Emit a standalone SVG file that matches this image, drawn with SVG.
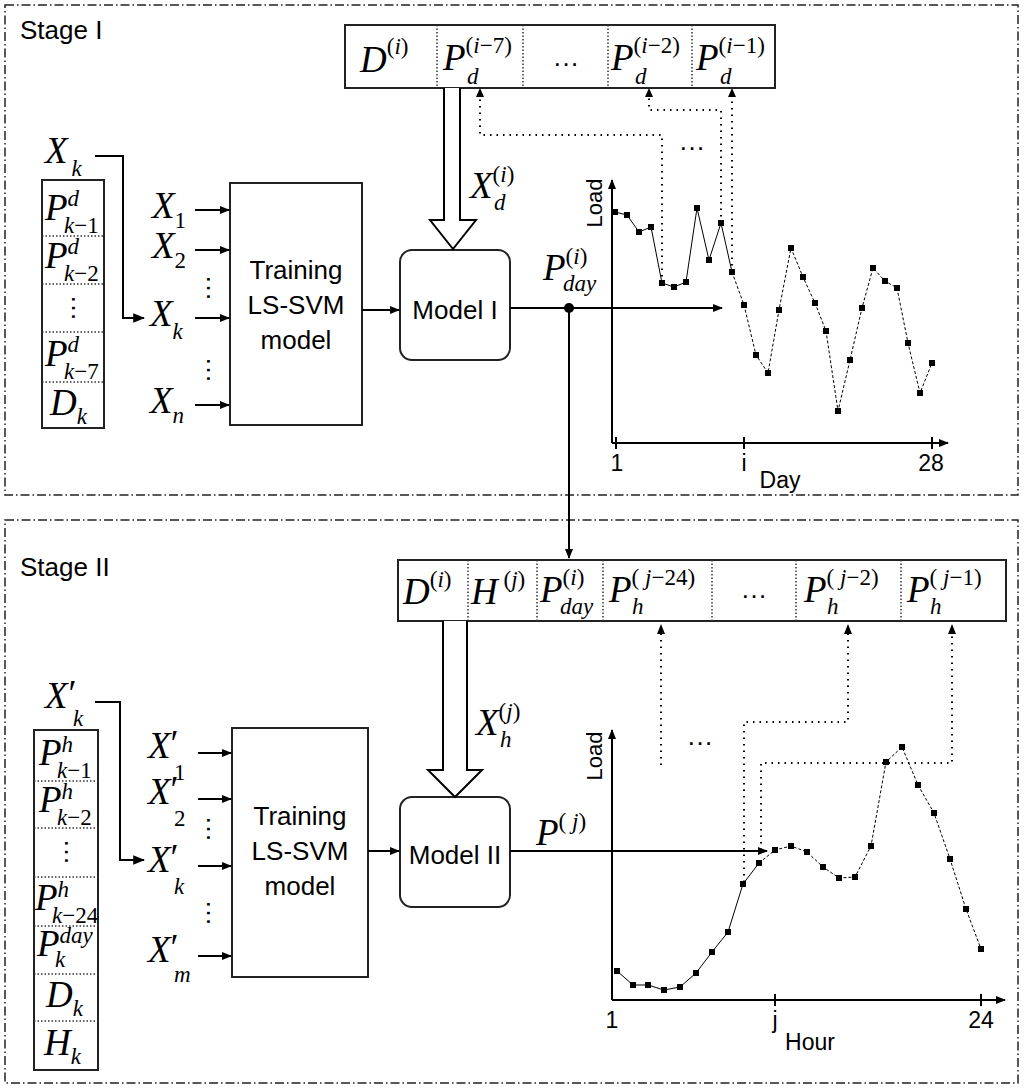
<svg xmlns="http://www.w3.org/2000/svg" width="1024" height="1089" viewBox="0 0 1024 1089">
<style>
.frame{fill:none;stroke:#222;stroke-width:1.5;stroke-dasharray:9 3 1.5 3}
.box{fill:#fff;stroke:#222;stroke-width:2}
.div{stroke:#333;stroke-width:1.5;stroke-dasharray:1.5 2}
.ln{fill:none;stroke:#000;stroke-width:2}
.dot{fill:none;stroke:#000;stroke-width:2;stroke-dasharray:1.5 5}
.solid{fill:none;stroke:#000;stroke-width:1}
.dash{fill:none;stroke:#000;stroke-width:1;stroke-dasharray:3 2}
.m{font-family:"Liberation Serif",serif;font-style:italic;font-size:37px;fill:#000}
.s{font-size:23px}
.r{font-style:normal}
.sans{font-family:"Liberation Sans",Arial,sans-serif;fill:#000}
.pt{fill:#000}
</style>
<defs>
<marker id="ah" viewBox="0 0 10 10" refX="9" refY="5" markerWidth="5" markerHeight="5" orient="auto" markerUnits="strokeWidth"><path d="M0,1 L10,5 L0,9 z" fill="#000"/></marker>
<marker id="sh" viewBox="0 0 10 10" refX="9" refY="5" markerWidth="6" markerHeight="6" orient="auto" markerUnits="strokeWidth"><path d="M0,1 L10,5 L0,9 z" fill="#000"/></marker>
</defs>

<rect class="frame" x="5" y="5" width="1013" height="490"/>
<rect class="frame" x="5" y="520" width="1013" height="563"/>
<text class="sans" x="20" y="39" font-size="26">Stage I</text>
<text class="sans" x="20" y="576" font-size="26">Stage II</text>

<g id="stage1-vector">
<rect class="box" x="345" y="25" width="430" height="63"/>
<line class="div" x1="437" y1="25" x2="437" y2="88"/><line class="div" x1="523" y1="25" x2="523" y2="88"/><line class="div" x1="608" y1="25" x2="608" y2="88"/><line class="div" x1="692" y1="25" x2="692" y2="88"/>
<text class="m" x="360" y="72">D<tspan class="s r" dy="-18">(</tspan><tspan class="s" >i</tspan><tspan class="s r">)</tspan></text>
<text class="m" x="443" y="70">P<tspan class="s r" dy="-17">(</tspan><tspan class="s">i</tspan><tspan class="s r">−7)</tspan><tspan class="s" x="467" dy="31">d</tspan></text>
<text class="sans" x="566" y="72" font-size="26" text-anchor="middle">···</text>
<text class="m" x="611" y="70">P<tspan class="s r" dy="-17">(</tspan><tspan class="s">i</tspan><tspan class="s r">−2)</tspan><tspan class="s" x="635" dy="31">d</tspan></text>
<text class="m" x="696" y="70">P<tspan class="s r" dy="-17">(</tspan><tspan class="s">i</tspan><tspan class="s r">−1)</tspan><tspan class="s" x="720" dy="31">d</tspan></text>
</g>

<g id="stage1-inputs">
<text class="m" x="45" y="163">X<tspan class="s" dx="4" dy="13">k</tspan></text>
<rect class="box" x="42" y="180" width="62" height="248"/>
<line class="div" x1="42" y1="236" x2="104" y2="236"/><line class="div" x1="42" y1="284" x2="104" y2="284"/><line class="div" x1="42" y1="332" x2="104" y2="332"/><line class="div" x1="42" y1="382" x2="104" y2="382"/>
<text class="m" x="45" y="220">P<tspan class="s" dy="-14">d</tspan><tspan class="s" x="64" dy="27">k<tspan class="r">−1</tspan></tspan></text>
<text class="m" x="45" y="268">P<tspan class="s" dy="-14">d</tspan><tspan class="s" x="64" dy="27">k<tspan class="r">−2</tspan></tspan></text>
<text class="sans" x="73" y="315" font-size="26" text-anchor="middle" transform="rotate(90 73 308)">···</text>
<text class="m" x="45" y="366">P<tspan class="s" dy="-14">d</tspan><tspan class="s" x="64" dy="27">k<tspan class="r">−7</tspan></tspan></text>
<text class="m" x="50" y="415">D<tspan class="s" dy="9">k</tspan></text>
<text class="m" x="152" y="218">X<tspan class="s r" dy="10">1</tspan></text>
<text class="m" x="152" y="258">X<tspan class="s r" dy="10">2</tspan></text>
<text class="m" x="150" y="326">X<tspan class="s" dy="13">k</tspan></text>
<text class="m" x="150" y="413">X<tspan class="s" dy="10">n</tspan></text>
<text class="sans" x="208" y="295" font-size="26" text-anchor="middle" transform="rotate(90 208 288)">···</text>
<text class="sans" x="208" y="377" font-size="26" text-anchor="middle" transform="rotate(90 208 370)">···</text>
</g>

<g id="train1">
<rect class="box" x="230" y="183" width="132" height="242"/>
<text class="sans" font-size="26" text-anchor="middle"><tspan x="296" y="279">Training</tspan><tspan x="296" y="314">LS-SVM</tspan><tspan x="296" y="349">model</tspan></text>
</g>
<g id="model1">
<rect class="box" x="400" y="250" width="110" height="110" rx="12"/>
<text class="sans" x="455" y="319" font-size="26" text-anchor="middle">Model I</text>
</g>
<text class="m" x="470" y="198">X<tspan class="s r" dy="-16">(</tspan><tspan class="s">i</tspan><tspan class="s r">)</tspan><tspan class="s" x="494" dy="28">d</tspan></text>
<text class="m" x="543" y="280">P<tspan class="s r" dy="-16">(</tspan><tspan class="s">i</tspan><tspan class="s r">)</tspan><tspan class="s" x="563" dy="27">day</tspan></text>

<g id="stage2-vector">
<rect class="box" x="398" y="560" width="608" height="61"/>
<line class="div" x1="468" y1="560" x2="468" y2="621"/><line class="div" x1="537" y1="560" x2="537" y2="621"/><line class="div" x1="603" y1="560" x2="603" y2="621"/><line class="div" x1="712" y1="560" x2="712" y2="621"/><line class="div" x1="796" y1="560" x2="796" y2="621"/><line class="div" x1="901" y1="560" x2="901" y2="621"/>
<text class="m" x="403" y="604">D<tspan class="s r" dy="-17">(</tspan><tspan class="s">i</tspan><tspan class="s r">)</tspan></text>
<text class="m" x="471" y="604">H<tspan class="s r" dy="-17"> (</tspan><tspan class="s">j</tspan><tspan class="s r">)</tspan></text>
<text class="m" x="540" y="602">P<tspan class="s r" dy="-17">(</tspan><tspan class="s">i</tspan><tspan class="s r">)</tspan><tspan class="s" x="560" dy="29">day</tspan></text>
<text class="m" x="609" y="602">P<tspan class="s r" dy="-17">(</tspan><tspan class="s"> j</tspan><tspan class="s r">−24)</tspan><tspan class="s" x="632" dy="29">h</tspan></text>
<text class="sans" x="754" y="604" font-size="26" text-anchor="middle">···</text>
<text class="m" x="804" y="602">P<tspan class="s r" dy="-17">(</tspan><tspan class="s"> j</tspan><tspan class="s r">−2)</tspan><tspan class="s" x="827" dy="29">h</tspan></text>
<text class="m" x="907" y="602">P<tspan class="s r" dy="-17">(</tspan><tspan class="s"> j</tspan><tspan class="s r">−1)</tspan><tspan class="s" x="930" dy="29">h</tspan></text>
</g>

<g id="stage2-inputs">
<text class="m" x="45" y="708">X<tspan class="r" dx="1" dy="-2">′</tspan><tspan class="s" x="73" dy="20">k</tspan></text>
<rect class="box" x="34" y="730" width="64" height="340"/>
<line class="div" x1="34" y1="781" x2="98" y2="781"/><line class="div" x1="34" y1="828" x2="98" y2="828"/><line class="div" x1="34" y1="877" x2="98" y2="877"/><line class="div" x1="34" y1="926" x2="98" y2="926"/><line class="div" x1="34" y1="974" x2="98" y2="974"/><line class="div" x1="34" y1="1021" x2="98" y2="1021"/>
<text class="m" x="39" y="765">P<tspan class="s" dy="-13">h</tspan><tspan class="s" x="57" dy="26">k<tspan class="r">−1</tspan></tspan></text>
<text class="m" x="39" y="812">P<tspan class="s" dy="-13">h</tspan><tspan class="s" x="57" dy="26">k<tspan class="r">−2</tspan></tspan></text>
<text class="sans" x="66" y="859" font-size="26" text-anchor="middle" transform="rotate(90 66 852)">···</text>
<text class="m" x="35" y="910">P<tspan class="s" dy="-13">h</tspan><tspan class="s" x="52" dy="26">k<tspan class="r">−24</tspan></tspan></text>
<text class="m" x="37" y="956">P<tspan class="s" dy="-13">day</tspan><tspan class="s" x="55" dy="24">k</tspan></text>
<text class="m" x="46" y="1007">D<tspan class="s" dy="9">k</tspan></text>
<text class="m" x="44" y="1055">H<tspan class="s" dy="9">k</tspan></text>
<text class="m" x="148" y="758">X<tspan class="r" dy="-2">′</tspan><tspan class="s r" x="174" dy="24">1</tspan></text>
<text class="m" x="148" y="804">X<tspan class="r" dy="-2">′</tspan><tspan class="s r" x="174" dy="24">2</tspan></text>
<text class="m" x="148" y="872">X<tspan class="r" dy="-2">′</tspan><tspan class="s" x="174" dy="24">k</tspan></text>
<text class="m" x="148" y="962">X<tspan class="r" dy="-2">′</tspan><tspan class="s" x="174" dy="22">m</tspan></text>
<text class="sans" x="208" y="836" font-size="26" text-anchor="middle" transform="rotate(90 208 829)">···</text>
<text class="sans" x="208" y="920" font-size="26" text-anchor="middle" transform="rotate(90 208 913)">···</text>
</g>

<g id="train2">
<rect class="box" x="232" y="728" width="136" height="249"/>
<text class="sans" font-size="26" text-anchor="middle"><tspan x="300" y="825">Training</tspan><tspan x="300" y="860">LS-SVM</tspan><tspan x="300" y="895">model</tspan></text>
</g>
<g id="model2">
<rect class="box" x="400" y="797" width="110" height="110" rx="12"/>
<text class="sans" x="455" y="864" font-size="26" text-anchor="middle">Model II</text>
</g>
<text class="m" x="476" y="735">X<tspan class="s r" dy="-16">(</tspan><tspan class="s">j</tspan><tspan class="s r">)</tspan><tspan class="s" x="500" dy="28">h</tspan></text>
<text class="m" x="536" y="845">P<tspan class="s r" dy="-16">(</tspan><tspan class="s"> j</tspan><tspan class="s r">)</tspan></text>

<g id="connectors">
<polyline class="ln" points="95,156 123,156 123,318 144,318" stroke-width="1.5" marker-end="url(#sh)"/>
<line class="ln" x1="195" y1="210" x2="229" y2="210" marker-end="url(#ah)"/>
<line class="ln" x1="195" y1="250" x2="229" y2="250" marker-end="url(#ah)"/>
<line class="ln" x1="195" y1="318" x2="229" y2="318" marker-end="url(#ah)"/>
<line class="ln" x1="195" y1="405" x2="229" y2="405" marker-end="url(#ah)"/>
<line class="ln" x1="362" y1="310" x2="399" y2="310" marker-end="url(#ah)"/>
<path d="M444,88 V220 H430 L453,249 L476,220 H460 V88" fill="#fff" stroke="#000" stroke-width="2"/>
<line class="ln" x1="510" y1="308" x2="722" y2="308" marker-end="url(#ah)"/>
<circle cx="569" cy="308" r="5" fill="#000"/>
<line class="ln" x1="569" y1="308" x2="569" y2="558" marker-end="url(#ah)"/>
<polyline class="dot" points="662,283 662,135 480,135 480,95"/>
<polyline class="dot" points="721,223 721,110 649,110 649,95"/>
<polyline class="dot" points="732,272 732,95"/>
<path d="M476,97 L480,88 L484,97 z M645,97 L649,88 L653,97 z M728,97 L732,88 L736,97 z"/>
<text class="sans" x="692" y="156" font-size="26" text-anchor="middle">···</text>
<polyline class="ln" points="95,702 120,702 120,860 144,860" stroke-width="1.5" marker-end="url(#sh)"/>
<line class="ln" x1="198" y1="753" x2="231" y2="753" marker-end="url(#ah)"/>
<line class="ln" x1="198" y1="799" x2="231" y2="799" marker-end="url(#ah)"/>
<line class="ln" x1="198" y1="866" x2="231" y2="866" marker-end="url(#ah)"/>
<line class="ln" x1="198" y1="956" x2="231" y2="956" marker-end="url(#ah)"/>
<line class="ln" x1="368" y1="851" x2="399" y2="851" marker-end="url(#ah)"/>
<path d="M443,621 V770 H428 L455,797 L482,770 H467 V621" fill="#fff" stroke="#000" stroke-width="2"/>
<line class="ln" x1="510" y1="851" x2="767" y2="851" marker-end="url(#ah)"/>
<polyline class="dot" points="661,765 661,632"/>
<polyline class="dot" points="744,882 744,722 848,722 848,632"/>
<polyline class="dot" points="761,850 761,763 952,763 952,632"/>
<path d="M657,634 L661,624 L665,634 z M844,634 L848,624 L852,634 z M948,634 L952,624 L956,634 z"/>
<text class="sans" x="700" y="751" font-size="26" text-anchor="middle">···</text>
</g>

<g id="chart1">
<line class="ln" x1="612" y1="443" x2="612" y2="180" marker-end="url(#ah)"/>
<line class="ln" x1="612" y1="443" x2="948" y2="443" marker-end="url(#ah)"/>
<line class="ln" x1="616" y1="437" x2="616" y2="449"/><line class="ln" x1="744" y1="437" x2="744" y2="449"/><line class="ln" x1="932" y1="437" x2="932" y2="449"/>
<text class="sans" x="602" y="203" font-size="22" transform="rotate(-90 602 203)" text-anchor="middle">Load</text>
<text class="sans" font-size="23" text-anchor="middle"><tspan x="617" y="471">1</tspan><tspan x="744" y="471">i</tspan><tspan x="931" y="471">28</tspan><tspan x="780" y="488">Day</tspan></text>
<polyline class="solid" points="615,212 627,215 639,232 651,227 662,283 674,287 686,282 697,208 709,260 721,223 732,272"/>
<polyline class="dash" points="732,272 744,305 756,355 768,373 779,310 791,248 803,277 815,303 826,331 838,411 850,360 862,308 873,268 885,281 897,288 908,343 920,393 932,363"/>
<g class="pt">
<rect x="612" y="209" width="6" height="6"/><rect x="624" y="212" width="6" height="6"/><rect x="636" y="229" width="6" height="6"/><rect x="648" y="224" width="6" height="6"/><rect x="659" y="280" width="6" height="6"/><rect x="671" y="284" width="6" height="6"/><rect x="683" y="279" width="6" height="6"/><rect x="694" y="205" width="6" height="6"/><rect x="706" y="257" width="6" height="6"/><rect x="718" y="220" width="6" height="6"/><rect x="729" y="269" width="6" height="6"/><rect x="741" y="302" width="6" height="6"/><rect x="753" y="352" width="6" height="6"/><rect x="765" y="370" width="6" height="6"/><rect x="776" y="307" width="6" height="6"/><rect x="788" y="245" width="6" height="6"/><rect x="800" y="274" width="6" height="6"/><rect x="812" y="300" width="6" height="6"/><rect x="823" y="328" width="6" height="6"/><rect x="835" y="408" width="6" height="6"/><rect x="847" y="357" width="6" height="6"/><rect x="859" y="305" width="6" height="6"/><rect x="870" y="265" width="6" height="6"/><rect x="882" y="278" width="6" height="6"/><rect x="894" y="285" width="6" height="6"/><rect x="905" y="340" width="6" height="6"/><rect x="917" y="390" width="6" height="6"/><rect x="929" y="360" width="6" height="6"/>
</g>
</g>

<g id="chart2">
<line class="ln" x1="612" y1="1000" x2="612" y2="730" marker-end="url(#ah)"/>
<line class="ln" x1="612" y1="1000" x2="1005" y2="1000" marker-end="url(#ah)"/>
<line class="ln" x1="775" y1="994" x2="775" y2="1006"/><line class="ln" x1="981" y1="994" x2="981" y2="1006"/>
<text class="sans" x="602" y="756" font-size="22" transform="rotate(-90 602 756)" text-anchor="middle">Load</text>
<text class="sans" font-size="23" text-anchor="middle"><tspan x="612" y="1028">1</tspan><tspan x="775" y="1028">j</tspan><tspan x="981" y="1028">24</tspan><tspan x="810" y="1050">Hour</tspan></text>
<polyline class="solid" points="617,971 633,985 648,985 664,990 680,987 696,973 712,952 728,932 743,884 759,863"/>
<polyline class="dash" points="759,863 775,850 791,846 807,852 823,867 839,878 855,877 871,846 886,762 902,747 918,785 934,813 950,859 966,909 981,949"/>
<g class="pt">
<rect x="614" y="968" width="6" height="6"/><rect x="630" y="982" width="6" height="6"/><rect x="645" y="982" width="6" height="6"/><rect x="661" y="987" width="6" height="6"/><rect x="677" y="984" width="6" height="6"/><rect x="693" y="970" width="6" height="6"/><rect x="709" y="949" width="6" height="6"/><rect x="725" y="929" width="6" height="6"/><rect x="740" y="881" width="6" height="6"/><rect x="756" y="860" width="6" height="6"/><rect x="772" y="847" width="6" height="6"/><rect x="788" y="843" width="6" height="6"/><rect x="804" y="849" width="6" height="6"/><rect x="820" y="864" width="6" height="6"/><rect x="836" y="875" width="6" height="6"/><rect x="852" y="874" width="6" height="6"/><rect x="868" y="843" width="6" height="6"/><rect x="883" y="759" width="6" height="6"/><rect x="899" y="744" width="6" height="6"/><rect x="915" y="782" width="6" height="6"/><rect x="931" y="810" width="6" height="6"/><rect x="947" y="856" width="6" height="6"/><rect x="963" y="906" width="6" height="6"/><rect x="978" y="946" width="6" height="6"/>
</g>
</g>
</svg>
